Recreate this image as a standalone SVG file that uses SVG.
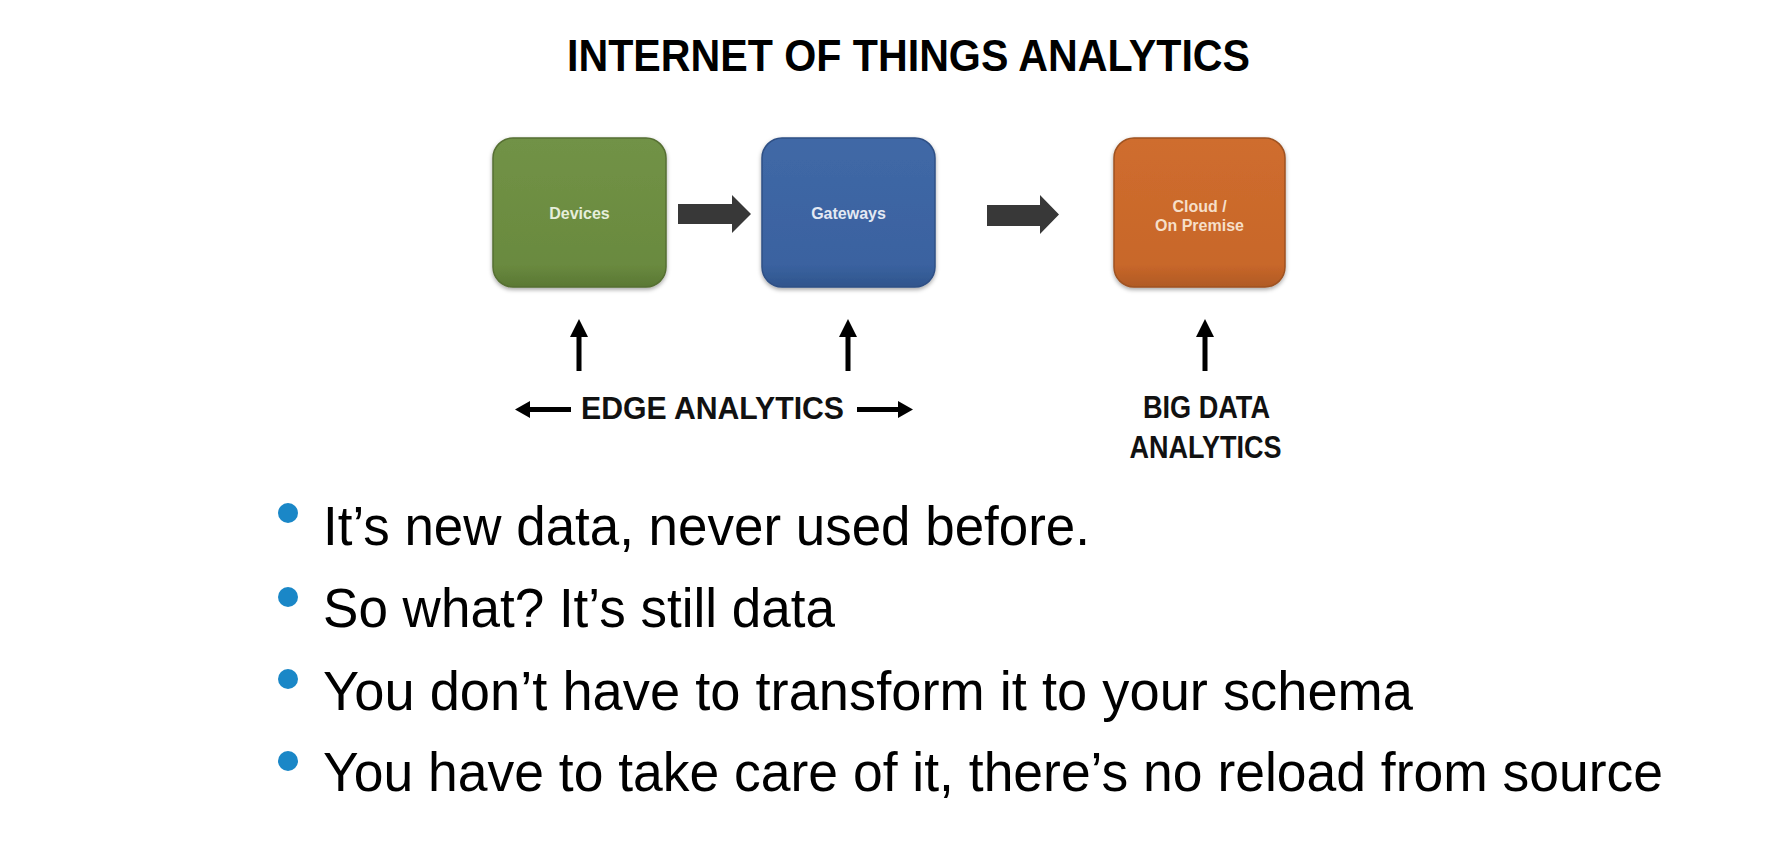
<svg xmlns="http://www.w3.org/2000/svg" width="1784" height="856" viewBox="0 0 1784 856">
<defs>
<style>
.title{font-family:"Liberation Sans",Arial,sans-serif;font-weight:bold;font-size:45px;fill:#000}
.box{stroke-width:1.5}
.boxtxt{font-family:"Liberation Sans",Arial,sans-serif;font-weight:bold;font-size:16px;text-anchor:middle}
.lbl{font-family:"Liberation Sans",Arial,sans-serif;font-weight:bold;font-size:32px;fill:#111}
.bul{font-family:"Liberation Sans",Arial,sans-serif;font-size:55px;fill:#000}
.dot{fill:#1a87c7}
.blk{fill:#383838}
.up{fill:#000}
</style>
<linearGradient id="gG" x1="0" y1="0" x2="0" y2="1">
<stop offset="0" stop-color="#719246"/><stop offset="0.85" stop-color="#6a8a3f"/><stop offset="1" stop-color="#5a7834"/>
</linearGradient>
<linearGradient id="gB" x1="0" y1="0" x2="0" y2="1">
<stop offset="0" stop-color="#4068a6"/><stop offset="0.85" stop-color="#3a62a0"/><stop offset="1" stop-color="#30558c"/>
</linearGradient>
<linearGradient id="gO" x1="0" y1="0" x2="0" y2="1">
<stop offset="0" stop-color="#cf6d2e"/><stop offset="0.85" stop-color="#c8672a"/><stop offset="1" stop-color="#b05a24"/>
</linearGradient>
<filter id="sh" x="-10%" y="-10%" width="120%" height="125%">
<feDropShadow dx="0" dy="2" stdDeviation="2" flood-color="#000" flood-opacity="0.35"/>
</filter>
</defs>
<rect width="1784" height="856" fill="#fff"/>

<g id="title">
<text class="title" x="567" y="71" textLength="683" lengthAdjust="spacingAndGlyphs">INTERNET OF THINGS ANALYTICS</text>
</g>

<g id="devices">
<rect class="box" x="493" y="138" width="173" height="149" rx="20" fill="url(#gG)" stroke="#566f33" filter="url(#sh)"/>
<text class="boxtxt" x="579.5" y="219" fill="#e6eedb">Devices</text>
</g>

<g id="gateways">
<rect class="box" x="762" y="138" width="173" height="149" rx="20" fill="url(#gB)" stroke="#2f5085" filter="url(#sh)"/>
<text class="boxtxt" x="848.5" y="219" fill="#e3e9f3">Gateways</text>
</g>

<g id="cloud">
<rect class="box" x="1114" y="138" width="171" height="149" rx="20" fill="url(#gO)" stroke="#9e5221" filter="url(#sh)"/>
<text class="boxtxt" x="1199.5" y="212" fill="#f6dfc8">Cloud /</text>
<text class="boxtxt" x="1199.5" y="231" fill="#f6dfc8">On Premise</text>
</g>

<g id="edge-analytics">
<text class="lbl" x="581" y="419" textLength="263" lengthAdjust="spacingAndGlyphs">EDGE ANALYTICS</text>
</g>

<g id="big-data-analytics">
<text class="lbl" x="1143" y="418" textLength="127" lengthAdjust="spacingAndGlyphs">BIG DATA</text>
<text class="lbl" x="1129.5" y="458" textLength="152" lengthAdjust="spacingAndGlyphs">ANALYTICS</text>
</g>

<g id="connectors">
<polygon class="blk" points="678,204 732,204 732,195 751,214 732,233 732,224 678,224"/>
<polygon class="blk" points="987,205 1040,205 1040,195 1059,214.5 1040,234 1040,226 987,226"/>
<polygon class="up" points="576.5,371 581.5,371 581.5,337 588,337 579,319 570,337 576.5,337"/>
<polygon class="up" points="845.5,371 850.5,371 850.5,337 857,337 848,319 839,337 845.5,337"/>
<polygon class="up" points="1202.5,371 1207.5,371 1207.5,337 1214,337 1205,319 1196,337 1202.5,337"/>
<polygon class="up" points="571,407 530,407 530,401 515,409.5 530,418 530,412 571,412"/>
<polygon class="up" points="857,407 898,407 898,401 913,409.5 898,418 898,412 857,412"/>
</g>

<g id="bullets">
<circle class="dot" cx="288" cy="513" r="10"/>
<text class="bul" x="323" y="545" textLength="767" lengthAdjust="spacingAndGlyphs">It’s new data, never used before.</text>
<circle class="dot" cx="288" cy="597" r="10"/>
<text class="bul" x="323" y="627" textLength="512" lengthAdjust="spacingAndGlyphs">So what? It’s still data</text>
<circle class="dot" cx="288" cy="679" r="10"/>
<text class="bul" x="323" y="710" textLength="1090" lengthAdjust="spacingAndGlyphs">You don’t have to transform it to your schema</text>
<circle class="dot" cx="288" cy="761" r="10"/>
<text class="bul" x="323" y="791" textLength="1340" lengthAdjust="spacingAndGlyphs">You have to take care of it, there’s no reload from source</text>
</g>
</svg>
